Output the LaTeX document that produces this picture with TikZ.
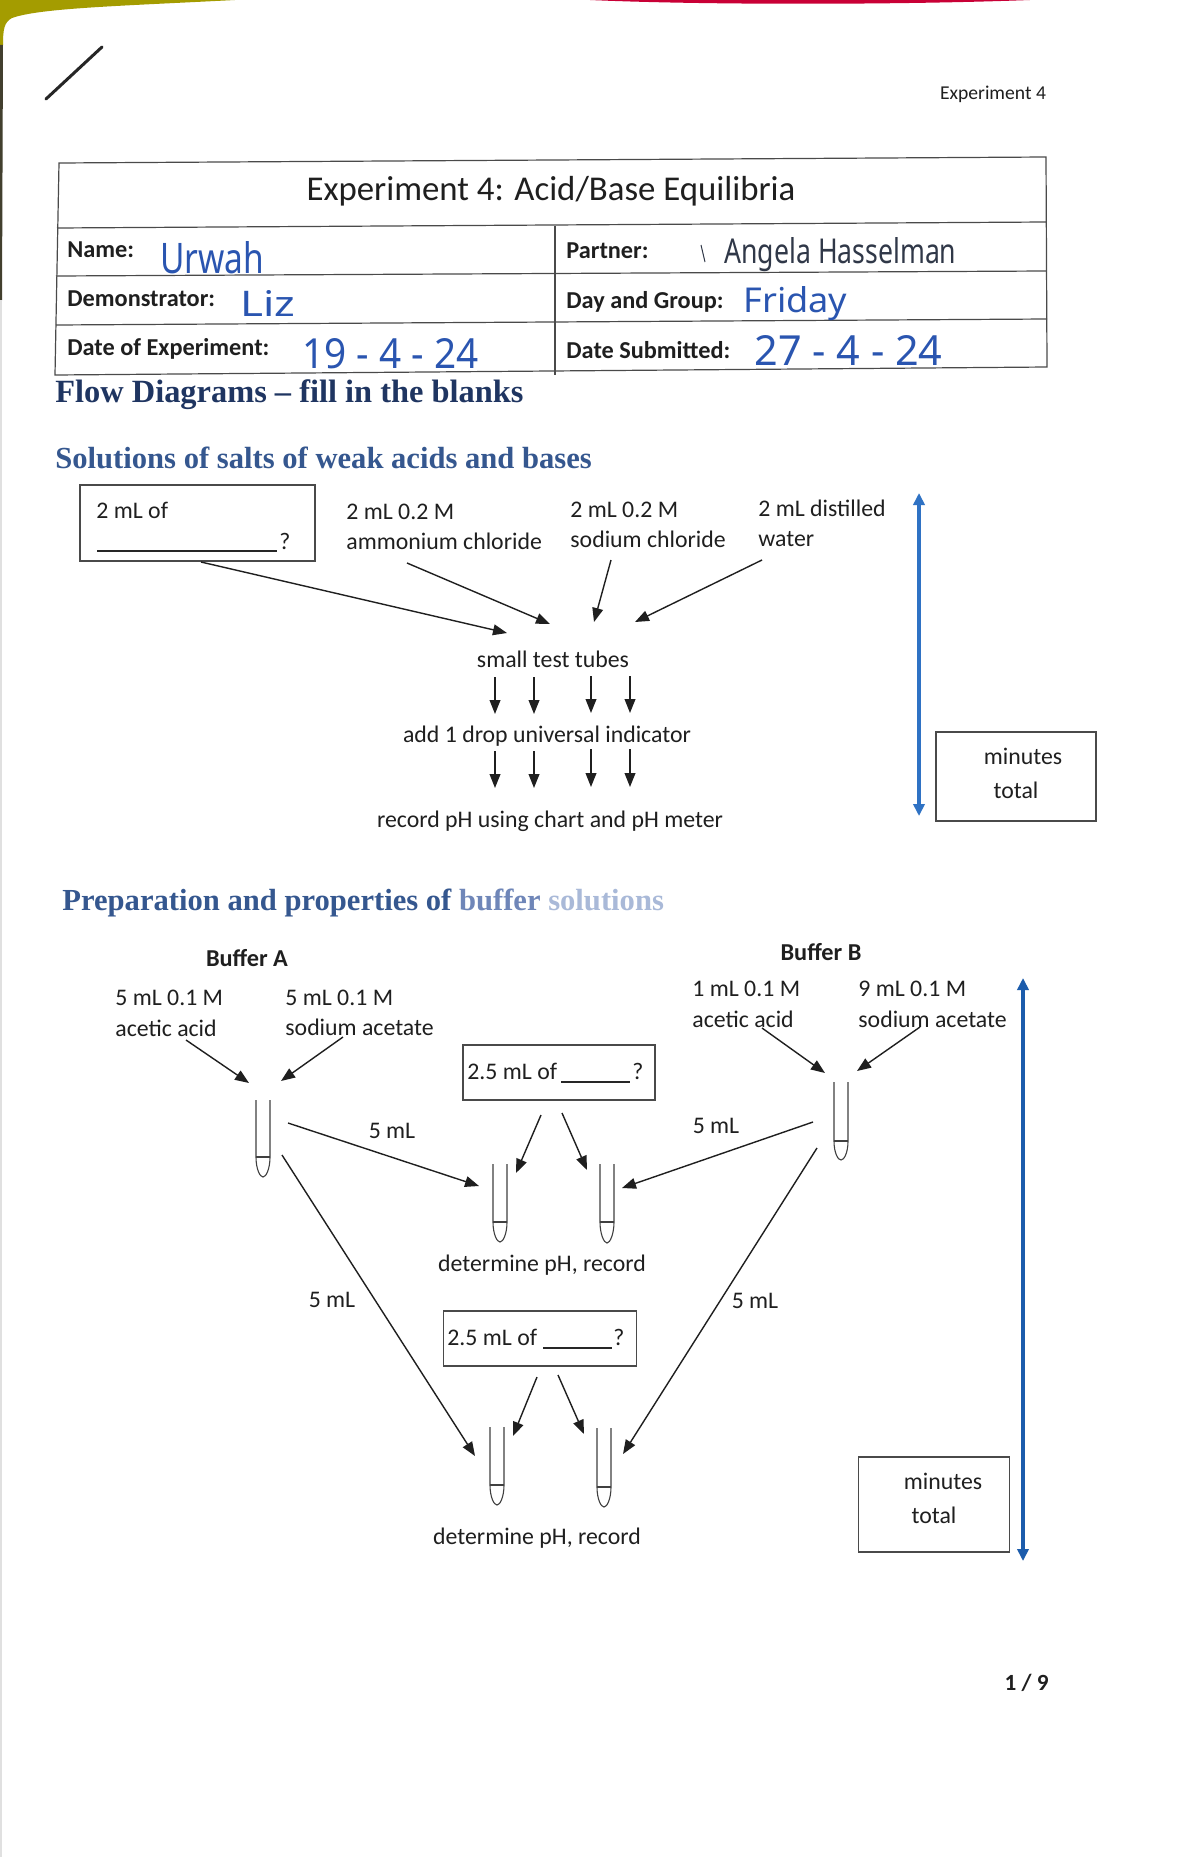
\documentclass[tikz,border=0pt]{standalone}
\usepackage{fontspec}
\setmainfont{Carlito}
\newfontfamily\headfont{Liberation Serif}
\newfontfamily\handfont{Noto Sans}
\usetikzlibrary{arrows.meta}
\definecolor{navy}{HTML}{1F3561}
\definecolor{headblue}{HTML}{35578F}
\definecolor{fadeblue}{HTML}{6F86B8}
\definecolor{paleblue}{HTML}{A9B9D8}
\definecolor{inkblue}{HTML}{2A55B0}
\definecolor{inkdark}{HTML}{303848}
\definecolor{lightarrow}{HTML}{2F72C4}
\definecolor{darkarrow}{HTML}{1C5CAC}
\definecolor{rule}{HTML}{4A4A4A}
\newcommand{\fitw}[3]{\resizebox{\dimexpr #1pt/2\relax}{\dimexpr #2pt/2\relax}{#3}}
\tikzset{
  txt/.style={inner sep=0pt,font=\fontsize{11.9}{13}\selectfont,text=black!88},
  lft/.style={txt,anchor=west},
  bld/.style={lft,font=\fontsize{12.15}{13}\selectfont\bfseries},
  ink/.style={inner sep=0pt,anchor=base west,text=inkblue,font=\handfont\fontsize{14}{16}\selectfont},
  head/.style={inner sep=0pt,anchor=west,font=\headfont\bfseries\fontsize{15.3}{17}\selectfont},
  fill box/.style={draw=rule,line width=0.6pt},
  arr/.style={draw=black!88,line width=0.7pt,-{Triangle[length=7pt,width=5.4pt]}},
  blank/.style={draw=black!85,line width=0.6pt},
  tubeline/.style={draw=black!75,line width=0.55pt},
  bigarrow/.style={line width=1.8pt,{Triangle[length=6pt,width=5.6pt]}-{Triangle[length=6pt,width=5.6pt]}}
}
\newcommand{\tube}[6]{% name, x1, x2, top, line, bottom
  \coordinate (#1) at ({(#2+#3)/2},#4);
  \draw[tubeline] (#2,#4) -- (#2,#5) .. controls (#2,#5+12) and ({(#2+#3)/2-3},#6) .. ({(#2+#3)/2},#6)
     .. controls ({(#2+#3)/2+3},#6) and (#3,#5+12) .. (#3,#5) -- (#3,#4);
  \draw[tubeline] (#2,#5) -- (#3,#5);
}
\begin{document}
\begin{tikzpicture}[x=0.5pt,y=-0.5pt]
\useasboundingbox (0,0) rectangle (1200,1857);
\fill[white] (0,0) rectangle (1200,1857);
% photo background at the sheet edges
\fill[olive!80!yellow] (0,0) -- (235,0) .. controls (120,6) and (40,8) .. (12,18) .. controls (4,22) and (3,30) .. (3,45) -- (0,60) -- cycle;
\fill[black!70!olive] (0,45) -- (3,45) -- (2,300) -- (0,300) -- cycle;
\fill[purple!85!red] (590,0) -- (1030,0) .. controls (900,5) and (700,5) .. (590,0) -- cycle;
\fill[black!12] (0,300) rectangle (2,1857);
% pen stroke
\coordinate (penA) at (102,47);
\coordinate (penB) at (46,99);
\draw[line width=1.5pt,black!85,line cap=round] (penA) -- (penB);
\node[txt,font=\fontsize{9.8}{12}\selectfont] (exptag) at (993,94) {Experiment 4};
% table
\coordinate (tTL) at (59,163);
\coordinate (tTR) at (1046,157);
\coordinate (tBR) at (1047,367);
\coordinate (tBL) at (55,375);
\draw[fill box] (tTL) -- (tTR) -- (tBR) -- (tBL) -- cycle;
\draw[fill box] (57,228) -- (1046,222);
\draw[fill box] (56,276) -- (1046,271);
\draw[fill box] (56,325) -- (1047,319);
\draw[fill box] (555,226) -- (555,375);
\node[txt,font=\fontsize{17.4}{19}\selectfont] (title) at (551,191) {Experiment 4: Acid/Base Equilibria};
\node[bld] (nm) at (67,250) {Name:};
\node[bld] (pt) at (566,251) {Partner:};
\node[bld] (dm) at (67,299) {Demonstrator:};
\node[bld] (dg) at (566,302) {Day and Group:};
\node[bld] (de) at (67,349) {Date of Experiment:};
\node[bld] (ds) at (566,350) {Date Submitted:};
\node[ink] (v1) at (160,273) {\fitw{104}{32}{Urwah}};
\node[ink,text=inkdark] (v2) at (724,263) {\fitw{232}{26}{Angela Hasselman}};
\node[ink] (v3) at (240,316) {\fitw{55}{26}{Liz}};
\node[ink] (v4) at (743,312) {\fitw{104}{26}{Friday}};
\node[ink] (v5) at (302,368) {\fitw{176}{30}{19 - 4 - 24}};
\node[ink] (v6) at (754,365) {\fitw{188}{30}{27 - 4 - 24}};
\coordinate (tickA) at (701,245);
\coordinate (tickB) at (705,262);
\draw[inkdark,line width=0.5pt] (tickA) -- (tickB);
% headings
\node[head,text=navy,font=\headfont\bfseries\fontsize{16.2}{18}\selectfont] (h1) at (55,395) {Flow Diagrams – fill in the blanks};
\node[head,text=headblue] (h2) at (55,458) {Solutions of salts of weak acids and bases};
\node[head,text=headblue] (h3) at (62,903) {Preparation and properties of \textcolor{fadeblue}{buffer} \textcolor{paleblue}{solutions}};
% section 1
\node[fill box,minimum width=117.5pt,minimum height=38pt,inner sep=0pt] (b1) at (197.5,523) {};
\node[lft] (b1a) at (96,510) {2 mL of};
\node[lft] (b1q) at (279,541) {?};
\coordinate (u1a) at (97,551);
\coordinate (u1b) at (277,551);
\draw[blank] (u1a) -- (u1b);
\node[lft] (n1a) at (346,512) {2 mL 0.2 M};
\node[lft] (n1b) at (346,541) {ammonium chloride};
\node[lft] (n2a) at (570,510) {2 mL 0.2 M};
\node[lft] (n2b) at (570,539) {sodium chloride};
\node[lft] (n3a) at (758,508) {2 mL distilled};
\node[lft] (n3b) at (758,539) {water};
\coordinate (e1s) at (201,562); \coordinate (e1t) at (507,633);
\coordinate (e2s) at (407,563); \coordinate (e2t) at (550,624);
\coordinate (e3s) at (611,560); \coordinate (e3t) at (594,622);
\coordinate (e4s) at (762,560); \coordinate (e4t) at (635,622);
\draw[arr] (e1s) -- (e1t);
\draw[arr] (e2s) -- (e2t);
\draw[arr] (e3s) -- (e3t);
\draw[arr] (e4s) -- (e4t);
\node[txt] (s1) at (553,659) {small test tubes};
\node[txt] (s2) at (547,736) {add 1 drop universal indicator};
\node[txt] (s3) at (550,821) {record pH using chart and pH meter};
\foreach \n/\x/\a/\b/\c/\d in {1/495/677/714/751/788,2/534/677/714/751/788,3/591/676/713/749/787,4/630/676/713/749/787}{
  \coordinate (v\n a) at (\x,\a); \coordinate (v\n b) at (\x,\b);
  \coordinate (w\n a) at (\x,\c); \coordinate (w\n b) at (\x,\d);
  \draw[arr] (v\n a) -- (v\n b);
  \draw[arr] (w\n a) -- (w\n b);
}
\coordinate (ba1) at (919,493); \coordinate (ba2) at (919,816);
\draw[bigarrow,lightarrow] (ba1) -- (ba2);
\node[fill box,minimum width=80pt,minimum height=44.5pt,inner sep=0pt] (m1) at (1016,776.5) {};
\node[txt] (m1a) at (1023,756) {minutes};
\node[txt] (m1b) at (1016,790) {total};
% section 2
\node[bld,anchor=center] (bA) at (247,958) {Buffer A};
\node[bld,anchor=center] (bB) at (821,952) {Buffer B};
\node[lft] (a1) at (115,998) {5 mL 0.1 M};
\node[lft] (a2) at (115,1028) {acetic acid};
\node[lft] (a3) at (285,998) {5 mL 0.1 M};
\node[lft] (a4) at (285,1027) {sodium acetate};
\node[lft] (c1) at (692,989) {1 mL 0.1 M};
\node[lft] (c2) at (692,1019) {acetic acid};
\node[lft] (c3) at (858,989) {9 mL 0.1 M};
\node[lft] (c4) at (858,1019) {sodium acetate};
\coordinate (f1s) at (186,1040); \coordinate (f1t) at (249,1083);
\coordinate (f2s) at (343,1037); \coordinate (f2t) at (281,1081);
\coordinate (f3s) at (762,1028); \coordinate (f3t) at (825,1073);
\coordinate (f4s) at (920,1027); \coordinate (f4t) at (857,1071);
\draw[arr] (f1s) -- (f1t);
\draw[arr] (f2s) -- (f2t);
\draw[arr] (f3s) -- (f3t);
\draw[arr] (f4s) -- (f4t);
\tube{tA}{256}{270}{1100}{1157}{1177}
\tube{tB}{834}{848}{1082}{1141}{1160}
\tube{t1}{493}{507}{1164}{1222}{1242}
\tube{t2}{600}{614}{1164}{1222}{1243}
\tube{t3}{490}{504}{1427}{1485}{1505}
\tube{t4}{597}{611}{1428}{1487}{1507}
\node[fill box,minimum width=96pt,minimum height=27.5pt,inner sep=0pt] (bx1) at (559,1072.5) {};
\node[lft] (bx1t) at (467,1071) {2.5 mL of};
\node[lft] (bx1q) at (632,1071) {?};
\coordinate (u2a) at (561,1082); \coordinate (u2b) at (630,1082);
\draw[blank] (u2a) -- (u2b);
\node[fill box,minimum width=96.5pt,minimum height=27.5pt,inner sep=0pt] (bx2) at (540,1338.5) {};
\node[lft] (bx2t) at (447,1337) {2.5 mL of};
\node[lft] (bx2q) at (613,1337) {?};
\coordinate (u3a) at (543,1348); \coordinate (u3b) at (612,1348);
\draw[blank] (u3a) -- (u3b);
\coordinate (g1s) at (541,1115); \coordinate (g1t) at (516,1173);
\coordinate (g2s) at (562,1113); \coordinate (g2t) at (587,1170);
\coordinate (g3s) at (288,1123); \coordinate (g3t) at (479,1186);
\coordinate (g4s) at (813,1122); \coordinate (g4t) at (622,1188);
\coordinate (g5s) at (282,1155); \coordinate (g5t) at (475,1456);
\coordinate (g6s) at (817,1148); \coordinate (g6t) at (623,1454);
\coordinate (g7s) at (537,1377); \coordinate (g7t) at (513,1436);
\coordinate (g8s) at (558,1375); \coordinate (g8t) at (584,1434);
\foreach \n in {1,...,8}{\draw[arr] (g\n s) -- (g\n t);}
\node[txt] (l1) at (392,1131) {5 mL};
\node[txt] (l2) at (716,1126) {5 mL};
\node[txt] (l3) at (332,1300) {5 mL};
\node[txt] (l4) at (755,1301) {5 mL};
\node[txt] (d1) at (542,1265) {determine pH, record};
\node[txt] (d2) at (537,1538) {determine pH, record};
\coordinate (bb1) at (1023,978); \coordinate (bb2) at (1023,1561);
\draw[bigarrow,darkarrow] (bb1) -- (bb2);
\node[fill box,minimum width=75.5pt,minimum height=47.5pt,inner sep=0pt] (m2) at (934,1504.5) {};
\node[txt] (m2a) at (943,1481) {minutes};
\node[txt] (m2b) at (934,1515) {total};
\node[bld,anchor=east,font=\fontsize{11.6}{13}\selectfont\bfseries] (pg) at (1049,1683) {1 / 9};
\end{tikzpicture}
\end{document}
